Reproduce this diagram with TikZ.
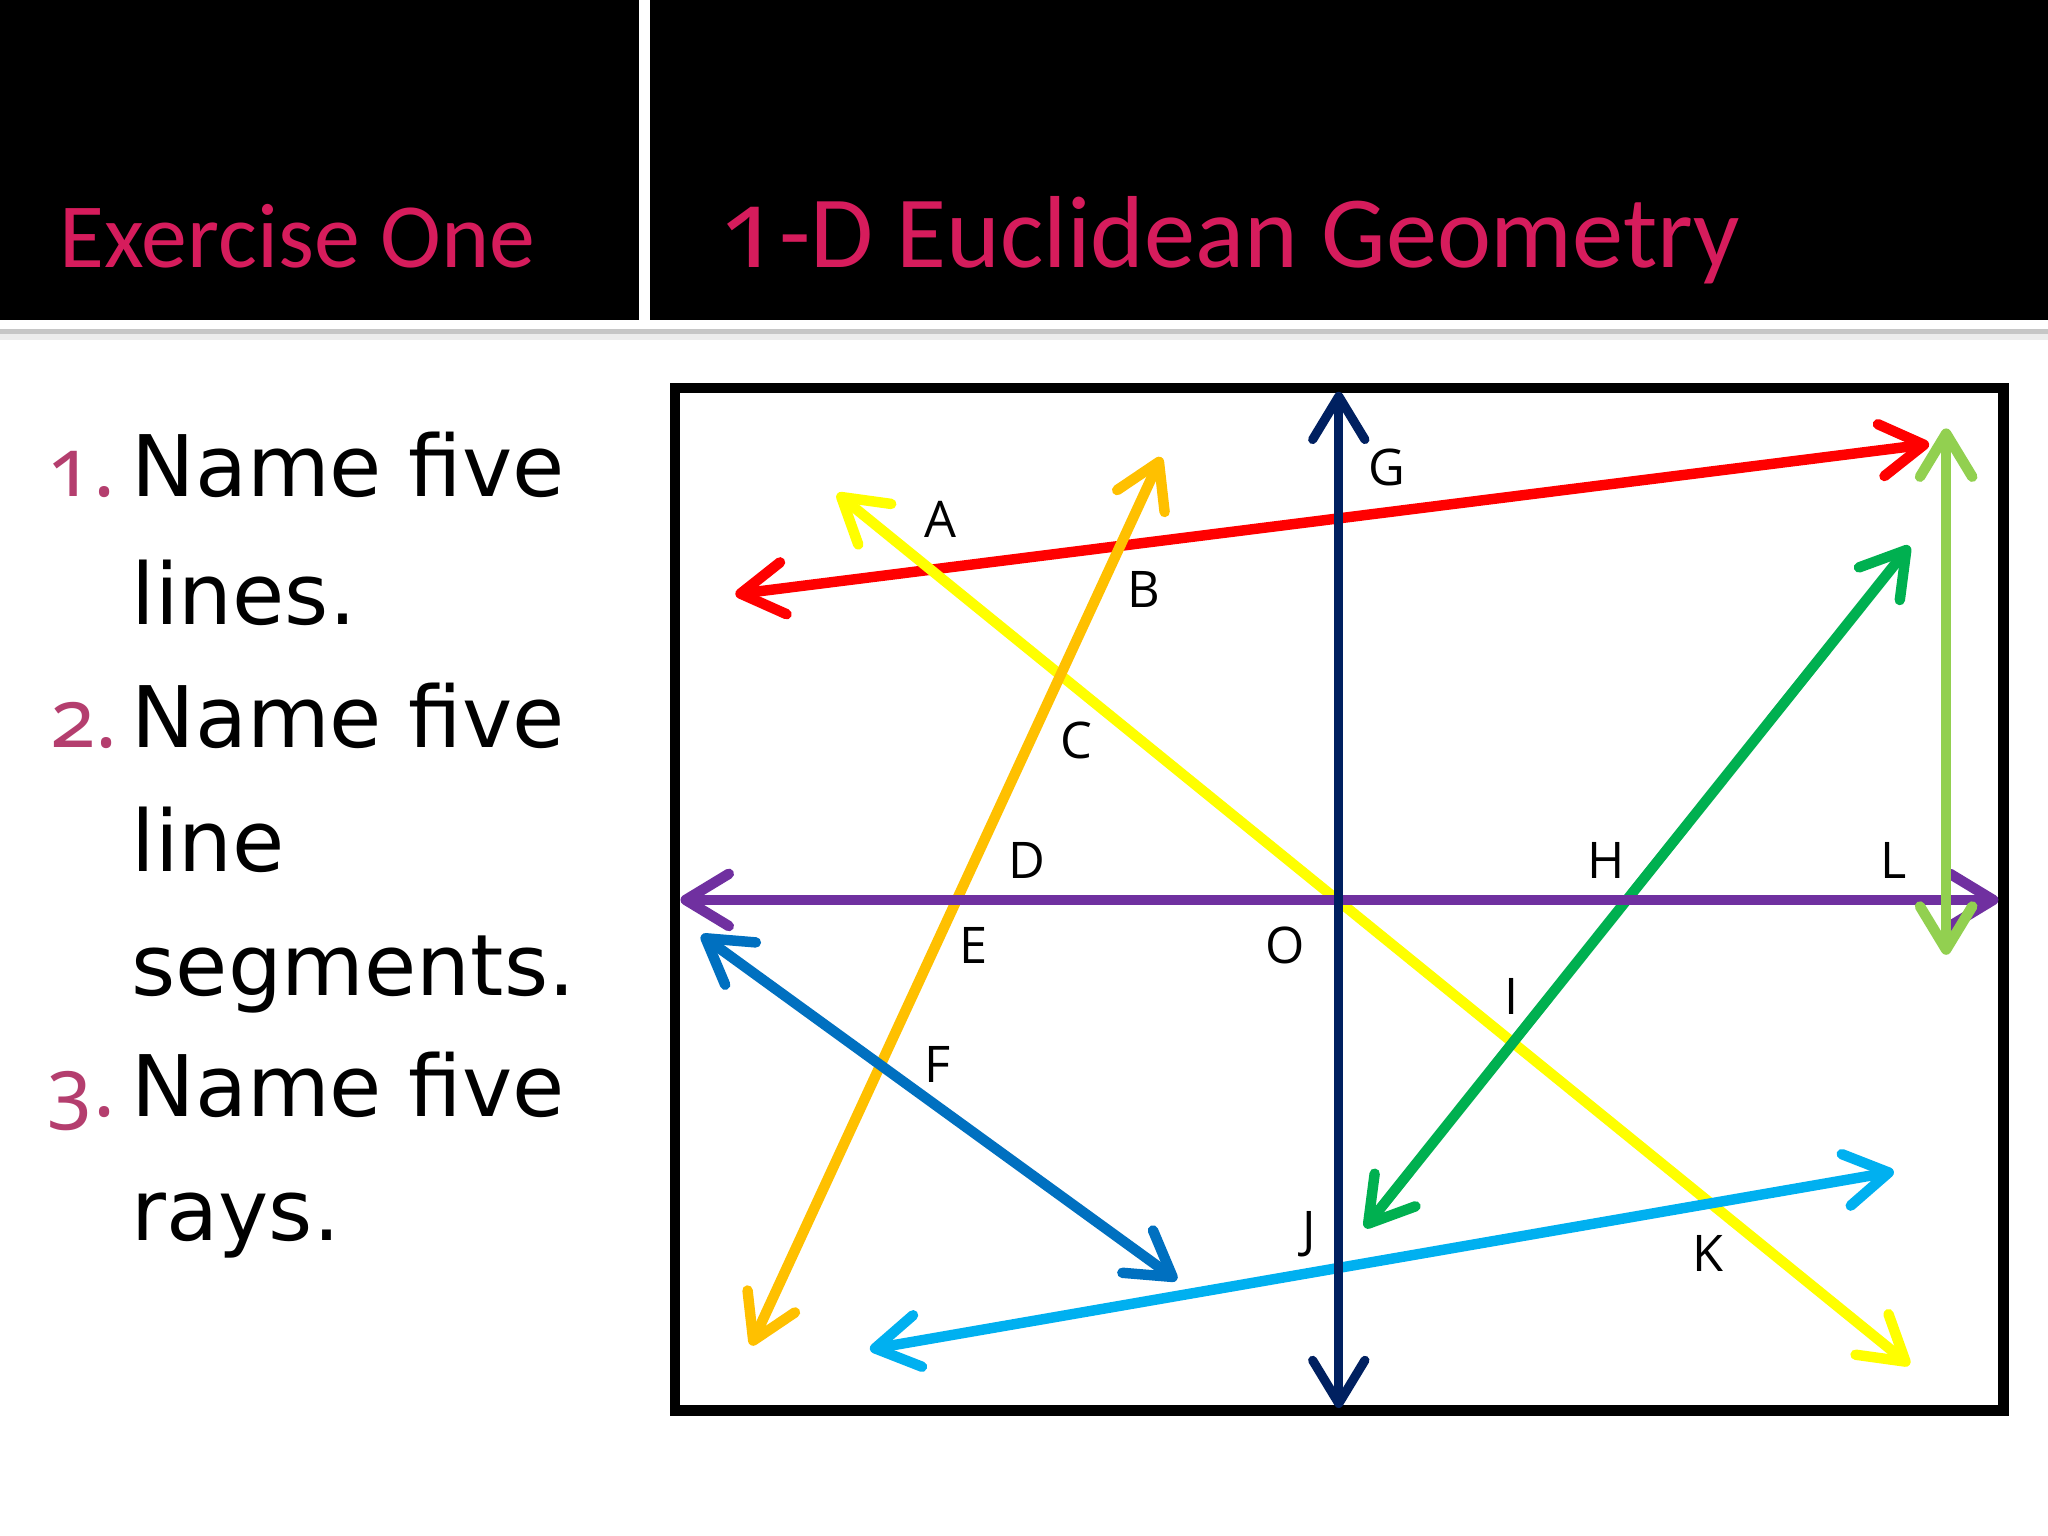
\documentclass[tikz,border=0pt]{standalone}
\usepackage{fontspec}
\setmainfont{DejaVu Sans}
\newfontfamily\titlefont{Carlito}
\newfontfamily\numfont[Numbers=OldStyle]{Noto Sans}
\newfontfamily\labelfont{Open Sans}
\usepackage{xcolor}
\usepackage{tikz}
\usetikzlibrary{positioning,arrows.meta}
\definecolor{SlidePink}{RGB}{214,28,92}

\begin{document}
\begin{tikzpicture}[x=0.1mm,y=-0.1mm,
                    >={Straight Barb[length=3.3mm,width=4mm,round]}
                    ]
  \definecolor{numpink}{RGB}{180,62,110}
  \definecolor{lnnavy}{RGB}{0,32,96}
  \definecolor{lnpurple}{RGB}{112,48,160}
  \definecolor{lnorange}{RGB}{255,192,0}
  \definecolor{lnyellow}{RGB}{255,255,0}
  \definecolor{lnblue}{RGB}{0,112,192}
  \definecolor{lncyan}{RGB}{0,176,240}
  \definecolor{lngreen}{RGB}{0,176,80}
  \definecolor{lnlime}{RGB}{146,208,80}
  \tikzset{
    titletext/.style={anchor=base west, inner sep=0pt, text=SlidePink,
                      font=\titlefont\fontsize{20pt}{24pt}\selectfont},
    numtext/.style={anchor=base west, inner sep=0pt, text=numpink,
                    font=\numfont\fontsize{18pt}{22pt}\selectfont},
    listtext/.style={anchor=base west, inner sep=0pt,
                     font=\fontsize{18.5pt}{22pt}\selectfont},
    ptlabel/.style={inner sep=0pt, font=\labelfont\fontsize{11pt}{13pt}\selectfont},
    geoline/.style={line width=0.8mm, line cap=round, <->}
  }

  \useasboundingbox (0,0) rectangle (1568,1176);
  \fill[white] (0,0) rectangle (1568,1176);

  % title bar
  \fill[black] (0,0) rectangle (489,245);
  \fill[black] (498,0) rectangle (1568,245);
  \fill[gray!15] (0,256) rectangle (1568,260);
  \fill[gray!45] (0,252) rectangle (1568,256);
  \node[titletext] (exone) at (45,205) {Exercise One};
  \node[titletext, font=\titlefont\fontsize{22.3pt}{27pt}\selectfont] (title) at (550,205)
       {{\numfont\fontsize{24pt}{27pt}\selectfont 1}-D Euclidean Geometry};

  % questions
  \node[numtext] (n1) at (36,380) {1.};
  \node[listtext] (q1a) at (100,380) {Name five};
  \node[listtext] (q1b) at (100,478) {lines.};
  \node[numtext] (n2) at (38,572) {2.};
  \node[listtext] (q2a) at (100,572) {Name five};
  \node[listtext] (q2b) at (100,667) {line};
  \node[listtext] (q2c) at (100,762) {segments.};
  \node[numtext] (n3) at (36,855) {3.};
  \node[listtext] (q3a) at (100,855) {Name five};
  \node[listtext] (q3b) at (100,950) {rays.};

  % frame
  \draw[line width=0.8mm] (517,297) rectangle (1534,1080);

  % end points
  \coordinate (red1) at (563,455);   \coordinate (red2) at (1477,340);
  \coordinate (yel1) at (641,378);   \coordinate (yel2) at (1462,1045);
  \coordinate (ora1) at (889,350);   \coordinate (ora2) at (575,1030);
  \coordinate (blu1) at (537,716);   \coordinate (blu2) at (901,980);
  \coordinate (grn1) at (1045,940);  \coordinate (grn2) at (1462,418);
  \coordinate (cyn1) at (666,1033);  \coordinate (cyn2) at (1450,897);
  \coordinate (pur1) at (521,689);   \coordinate (pur2) at (1530,689);
  \coordinate (lim1) at (1490,328);  \coordinate (lim2) at (1490,731);
  \coordinate (nav1) at (1025,300);  \coordinate (nav2) at (1025,1078);

  \draw[geoline, red] (red1) -- (red2);
  \draw[geoline, lnyellow] (yel1) -- (yel2);
  \draw[geoline, lnorange] (ora2) -- (ora1);
  \draw[geoline, lnblue] (blu1) -- (blu2);
  \draw[geoline, lngreen] (grn1) -- (grn2);
  \draw[geoline, lncyan] (cyn1) -- (cyn2);
  \draw[geoline, lnpurple] (pur1) -- (pur2);
  \draw[geoline, lnlime] (lim1) -- (lim2);
  \draw[geoline, lnnavy, line width=0.7mm] (nav1) -- (nav2);

  % point names
  \node[ptlabel] (A) at (720,398) {A};
  \node[ptlabel] (B) at (876,451) {B};
  \node[ptlabel] (C) at (824,567) {C};
  \node[ptlabel] (D) at (786,659) {D};
  \node[ptlabel] (E) at (745,724) {E};
  \node[ptlabel] (F) at (718,815) {F};
  \node[ptlabel] (G) at (1062,358) {G};
  \node[ptlabel] (H) at (1230,659) {H};
  \node[ptlabel] (I) at (1157,763) {I};
  \node[ptlabel] (J) at (1002,945) {J};
  \node[ptlabel] (K) at (1308,960) {K};
  \node[ptlabel] (L) at (1450,659) {L};
  \node[ptlabel] (O) at (984,724) {O};
\end{tikzpicture}
\end{document}
